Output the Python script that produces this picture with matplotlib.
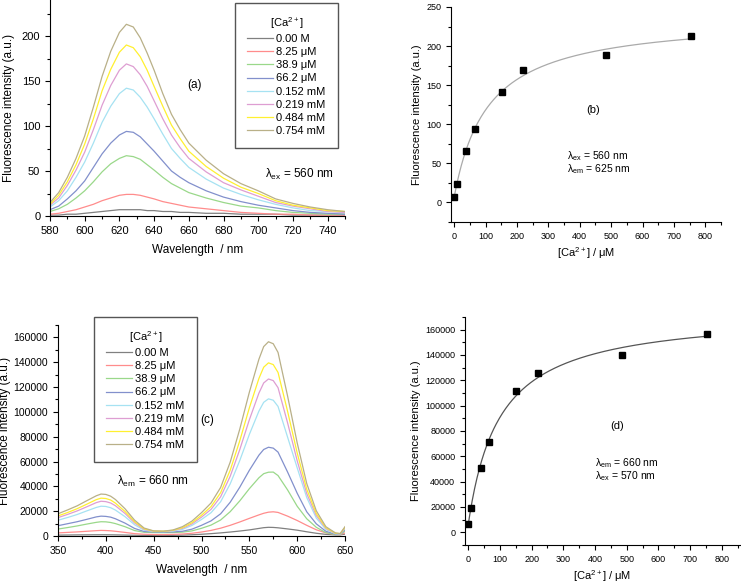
import numpy as np
import matplotlib
matplotlib.use("Agg")
import matplotlib.pyplot as plt
from matplotlib.ticker import MultipleLocator

plt.rcParams['font.family'] = ['Liberation Sans', 'DejaVu Sans']
plt.rcParams['mathtext.fontset'] = 'custom'
plt.rcParams['mathtext.rm'] = 'Liberation Sans'
plt.rcParams['mathtext.it'] = 'Liberation Sans:italic'

# ---- data ----
labels = ['0.00 M', '8.25 μM', '38.9 μM', '66.2 μM', '0.152 mM', '0.219 mM', '0.484 mM', '0.754 mM']
colors = ['#808080', '#ff8c8c', '#9ad88a', '#8290cc', '#a6e2f2', '#de9ed2', '#fff030', '#b9b088']

ca_uM = [0, 8.25, 38.9, 66.2, 152, 219, 484, 754]

# (a) emission spectra, lambda_ex = 560 nm
wl_a = [580, 585, 590, 595, 600, 605, 610, 615, 620, 624, 628, 632, 636, 640, 645, 650,
        655, 660, 670, 680, 690, 700, 710, 720, 730, 740, 750]
em_0 = [1, 1, 2, 2, 3, 4, 5, 6, 7, 7, 7, 7, 6, 6, 5, 5, 4, 4, 3, 3, 2, 2, 2, 1, 1, 1, 1]
em_1 = [2, 3, 5, 7, 10, 13, 17, 20, 23, 24, 24, 23, 21, 19, 16, 14, 12, 10, 8, 6, 4, 3, 2, 2, 1, 1, 1]
em_2 = [5, 8, 13, 20, 28, 38, 49, 58, 64, 67, 66, 63, 57, 51, 43, 36, 31, 26, 20, 15, 11, 9, 6, 4, 3, 2, 2]
em_3 = [7, 11, 19, 28, 39, 54, 69, 81, 90, 94, 93, 88, 80, 72, 61, 50, 43, 37, 28, 21, 16, 12, 9, 6, 4, 3, 2]
em_4 = [10, 17, 28, 43, 60, 81, 104, 122, 136, 142, 140, 132, 121, 108, 91, 75, 64, 54, 41, 31, 24, 18, 13, 9, 6, 5, 4]
em_5 = [12, 20, 34, 51, 71, 96, 123, 145, 162, 169, 166, 157, 144, 128, 108, 90, 76, 64, 49, 37, 29, 22, 15, 11, 8, 5, 4]
em_6 = [13, 23, 38, 57, 80, 108, 139, 163, 182, 190, 187, 177, 162, 144, 122, 101, 86, 72, 55, 42, 32, 25, 17, 12, 9, 6, 5]
em_7 = [15, 26, 43, 64, 89, 121, 155, 183, 204, 213, 210, 198, 181, 162, 136, 113, 96, 81, 62, 47, 36, 28, 19, 14, 10, 7, 5]

# (b) intensity at 625 nm
int_b = [7, 24, 66, 94, 141.5, 169, 188.5, 212.5]

# (c) excitation spectra, lambda_em = 660 nm
wl_c = [350, 360, 370, 380, 390, 395, 400, 405, 410, 420, 430, 440, 450, 460, 470, 480, 490, 500,
        510, 520, 530, 540, 550, 560, 565, 570, 575, 580, 590, 600, 610, 620, 630, 640, 645, 650]
ex_0 = [700, 800, 900, 950, 1000, 1000, 1000, 950, 900, 750, 600, 500, 400, 400, 500, 700, 1000, 1400,
        1900, 2500, 3200, 4000, 4900, 6100, 6700, 7000, 6900, 6600, 5700, 4700, 3400, 2200, 1300, 900, 900, 1500]
ex_1 = [2500, 2900, 3300, 3800, 4300, 4500, 4400, 4200, 3800, 2900, 1900, 1400, 1200, 1100, 1300, 1600, 2200, 3200,
        4500, 6300, 8600, 11300, 14200, 17000, 18300, 19200, 19500, 19000, 16000, 12500, 8600, 5000, 2500, 1200, 1100, 2500]
ex_2 = [5600, 6800, 8100, 9600, 11000, 11500, 11400, 10900, 10000, 7500, 4400, 3000, 2800, 2700, 2800, 3100, 4100, 6200,
        8800, 12900, 19600, 28300, 38100, 46900, 50200, 51400, 51500, 48700, 37100, 24000, 13900, 7000, 2700, 1200, 1100, 4000]
ex_3 = [8300, 9900, 11500, 13400, 15400, 16000, 15800, 15200, 13900, 10400, 6100, 3600, 3300, 3100, 3300, 3800, 5500, 8600,
        12200, 17900, 27200, 39300, 52900, 65100, 69700, 71500, 70800, 67600, 51500, 34500, 19500, 9800, 3800, 1500, 1300, 5000]
ex_4 = [12700, 14900, 17300, 20200, 23000, 24000, 23800, 22800, 20900, 15600, 9100, 4600, 3700, 3500, 4000, 5300, 8500, 13300,
        18800, 27600, 42000, 60800, 81800, 100600, 107700, 110500, 109400, 104400, 79600, 55000, 31000, 14400, 5300, 1800, 1600, 6000]
ex_5 = [14800, 17400, 20200, 23500, 26900, 28000, 27700, 26600, 24400, 18200, 10600, 5300, 3900, 3700, 4400, 6100, 9700, 15200,
        21500, 31600, 48100, 69600, 93600, 115100, 123300, 126500, 125200, 119500, 91100, 60700, 34200, 16400, 6100, 2000, 1800, 6500]
ex_6 = [16200, 18900, 22000, 25600, 29300, 30500, 30200, 29000, 26500, 19800, 11600, 5800, 4000, 3800, 4600, 6700, 10700, 16700,
        23700, 34900, 53000, 76700, 103200, 126900, 136000, 139500, 138100, 131800, 100400, 67000, 37700, 18100, 6700, 2200, 1900, 7000]
ex_7 = [17900, 21000, 24300, 28400, 32400, 33800, 33500, 32100, 29400, 22000, 12800, 6400, 4100, 3900, 4800, 7500, 12000, 18800,
        26600, 39100, 59500, 86100, 115800, 142400, 152600, 156500, 154900, 147900, 112700, 75100, 42300, 20300, 7500, 2500, 2000, 7500]

# (d) intensity at 570 nm excitation
int_d = [6800, 19000, 51000, 71600, 111200, 126000, 140000, 156800]

em_all = [em_0, em_1, em_2, em_3, em_4, em_5, em_6, em_7]
ex_all = [ex_0, ex_1, ex_2, ex_3, ex_4, ex_5, ex_6, ex_7]


def hyper_fit(x, y):
    # y = y0 + A*x/(K+x), K by grid search, y0 and A by least squares
    x = np.asarray(x, float)
    y = np.asarray(y, float)
    best = None
    for K in np.linspace(5, 600, 1200):
        M = np.column_stack([np.ones_like(x), x / (K + x)])
        coef, res, _, _ = np.linalg.lstsq(M, y, rcond=None)
        err = np.sum((M @ coef - y) ** 2)
        if best is None or err < best[0]:
            best = (err, K, coef)
    _, K, (y0, A) = best
    return lambda t: y0 + A * t / (K + t)


def style(ax, fs):
    ax.spines['top'].set_visible(False)
    ax.spines['right'].set_visible(False)
    ax.spines['left'].set_linewidth(0.8)
    ax.spines['bottom'].set_linewidth(0.8)
    ax.tick_params(which='both', direction='out', labelsize=fs, width=0.8)
    ax.tick_params(which='major', length=3.5)
    ax.tick_params(which='minor', length=2)


fig = plt.figure(figsize=(7.41, 5.83), dpi=100)
W, H = 741.0, 583.0


def add_ax(l, r, t, b):
    return fig.add_axes([l / W, 1 - b / H, (r - l) / W, (b - t) / H])


leg_kw = dict(fontsize=8, title_fontsize=8, frameon=True, fancybox=False,
              edgecolor='#555555', framealpha=1, handlelength=2.3, handletextpad=0.3,
              labelspacing=0.28, borderpad=1.1, borderaxespad=0, loc='upper left')

# ---- (a) ----
ax = add_ax(50, 345, 0, 216)
for ys, c, lab in zip(em_all, colors, labels):
    ax.plot(wl_a, ys, color=c, lw=0.9, label=lab)
ax.set_xlim(580, 750)
ax.set_ylim(0, 240)
ax.xaxis.set_major_locator(MultipleLocator(20))
ax.xaxis.set_minor_locator(MultipleLocator(10))
ax.yaxis.set_major_locator(MultipleLocator(50))
ax.yaxis.set_minor_locator(MultipleLocator(25))
style(ax, 8)
ax.set_xlabel('Wavelength  / nm', fontsize=8.5, labelpad=6)
ax.set_ylabel('Fluorescence intensity (a.u.)', fontsize=8.5, labelpad=5)
leg = ax.legend(title=r'[Ca$^{\mathregular{2+}}$]', bbox_to_anchor=(235 / W, 1 - 3 / H),
                bbox_transform=fig.transFigure, **leg_kw)
leg.get_frame().set_linewidth(1.0)
fig.text(195 / W, 1 - 85 / H, '(a)', fontsize=8.5, ha='center', va='center')
fig.text(265 / W, 1 - 174 / H, r'λ$_{\mathregular{ex}}$ = 560 nm', fontsize=8.5, ha='left', va='center')

# ---- (b) ----
ax = add_ax(451, 721, 7, 222)
fb = hyper_fit(ca_uM, int_b)
xs = np.linspace(0, 754, 300)
ax.plot(xs, fb(xs), color='#aaaaaa', lw=0.9)
ax.plot(ca_uM, int_b, 's', color='black', ms=4)
ax.set_xlim(-10, 850)
ax.set_ylim(-25, 250)
ax.xaxis.set_major_locator(MultipleLocator(100))
ax.xaxis.set_minor_locator(MultipleLocator(50))
ax.yaxis.set_major_locator(MultipleLocator(50))
ax.yaxis.set_minor_locator(MultipleLocator(25))
style(ax, 6.5)
ax.set_xlabel(r'[Ca$^{\mathregular{2+}}$] / μM', fontsize=8, labelpad=3)
ax.set_ylabel('Fluorescence intensity (a.u.)', fontsize=8, labelpad=3)
fig.text(593 / W, 1 - 110 / H, '(b)', fontsize=8, ha='center', va='center')
fig.text(567 / W, 1 - 156 / H, r'λ$_{\mathregular{ex}}$ = 560 nm', fontsize=7.5, ha='left', va='center')
fig.text(567 / W, 1 - 169 / H, r'λ$_{\mathregular{em}}$ = 625 nm', fontsize=7.5, ha='left', va='center')

# ---- (c) ----
ax = add_ax(58, 345, 325, 536)
for ys, c, lab in zip(ex_all, colors, labels):
    ax.plot(wl_c, ys, color=c, lw=0.9, label=lab)
ax.set_xlim(350, 650)
ax.set_ylim(0, 170000)
ax.xaxis.set_major_locator(MultipleLocator(50))
ax.xaxis.set_minor_locator(MultipleLocator(25))
ax.yaxis.set_major_locator(MultipleLocator(20000))
ax.yaxis.set_minor_locator(MultipleLocator(10000))
style(ax, 7.5)
ax.set_xlabel('Wavelength  / nm', fontsize=8.5, labelpad=6)
ax.set_ylabel('Fluorescence intensity (a.u.)', fontsize=8.5)
ax.yaxis.set_label_coords(-0.165, 0.5)
leg = ax.legend(title=r'[Ca$^{\mathregular{2+}}$]', bbox_to_anchor=(94 / W, 1 - 317 / H),
                bbox_transform=fig.transFigure, **leg_kw)
leg.get_frame().set_linewidth(1.0)
fig.text(207 / W, 1 - 420 / H, '(c)', fontsize=8.5, ha='center', va='center')
fig.text(117 / W, 1 - 481 / H, r'λ$_{\mathregular{em}}$ = 660 nm', fontsize=8.5, ha='left', va='center')

# ---- (d) ----
ax = add_ax(465, 740, 317, 545)
fd = hyper_fit(ca_uM, int_d)
ax.plot(xs, fd(xs), color='#555555', lw=0.9)
ax.plot(ca_uM, int_d, 's', color='black', ms=4)
ax.set_xlim(-10, 857)
ax.set_ylim(-10000, 170000)
ax.xaxis.set_major_locator(MultipleLocator(100))
ax.xaxis.set_minor_locator(MultipleLocator(50))
ax.yaxis.set_major_locator(MultipleLocator(20000))
ax.yaxis.set_minor_locator(MultipleLocator(10000))
style(ax, 6.5)
ax.set_xlabel(r'[Ca$^{\mathregular{2+}}$] / μM', fontsize=8, labelpad=3)
ax.set_ylabel('Fluorescence intensity (a.u.)', fontsize=8, labelpad=3)
fig.text(617 / W, 1 - 426 / H, '(d)', fontsize=8, ha='center', va='center')
fig.text(595 / W, 1 - 463 / H, r'λ$_{\mathregular{em}}$ = 660 nm', fontsize=7.5, ha='left', va='center')
fig.text(595 / W, 1 - 476 / H, r'λ$_{\mathregular{ex}}$ = 570 nm', fontsize=7.5, ha='left', va='center')

fig.savefig('out.png', dpi=100)
